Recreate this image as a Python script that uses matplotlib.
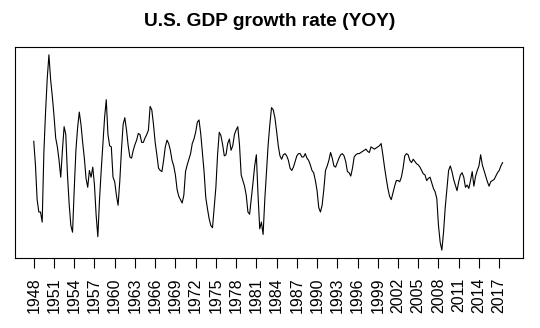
import numpy as np
import matplotlib
matplotlib.use("Agg")
import matplotlib.pyplot as plt

# quarterly YoY growth (%), 1948 Q1 onwards
gdp_growth = [
    5.7, 3.6, 0.5, -0.6,    # 1948
    -0.6, -1.5, 4.7, 8.3,   # 1949
    11.3, 13.4, 11.2, 9.7,  # 1950
    8.0, 6.0, 5.2, 4.0,     # 1951
    2.5, 4.9, 7.0, 6.3,     # 1952
    2.7, 0.1, -1.8, -2.4,   # 1953
    1.4, 4.9, 6.9, 8.3,     # 1954
    7.2, 5.6, 4.2, 2.4,     # 1955
    1.6, 3.1, 2.5, 3.4,     # 1956
    1.8, -0.9, -2.8, 0.5,   # 1957
    3.1, 5.4, 7.8, 9.4,     # 1958
    6.3, 5.3, 5.2, 2.5,     # 1959
    2.1, 0.9, 0.0, 2.1,     # 1960
    4.9, 7.2, 7.8, 6.7,     # 1961
    5.3, 4.3, 4.2, 4.9,     # 1962
    5.4, 5.8, 6.4, 6.3,     # 1963
    5.6, 5.6, 6.0, 6.3,     # 1964
    6.7, 8.8, 8.5, 7.2,     # 1965
    5.6, 4.5, 3.3, 3.1,     # 1966
    3.0, 4.0, 5.2, 5.8,     # 1967
    5.5, 4.9, 4.0, 3.5,     # 1968
    2.7, 1.4, 0.8, 0.5,     # 1969
    0.2, 0.9, 3.0, 3.6,     # 1970
    4.1, 4.6, 5.5, 5.9,     # 1971
    6.5, 7.4, 7.6, 6.4,     # 1972
    4.7, 3.0, 0.7, -0.3,    # 1973
    -1.2, -1.8, -2.0, -0.2, # 1974
    1.6, 4.5, 6.5, 6.2,     # 1975
    5.4, 4.4, 4.5, 5.5,     # 1976
    5.9, 4.9, 5.3, 6.3,     # 1977
    6.7, 7.0, 5.4, 2.7,     # 1978
    2.2, 1.7, 0.9, -0.6,    # 1979
    -0.8, 0.6, 2.0, 3.5,    # 1980
    4.5, 0.9, -2.1, -1.5,   # 1981
    -2.6, 0.5, 3.0, 5.4,    # 1982
    7.2, 8.7, 8.5, 7.8,     # 1983
    6.6, 5.3, 4.4, 4.1,     # 1984
    4.5, 4.6, 4.4, 4.0,     # 1985
    3.3, 3.1, 3.4, 3.9,     # 1986
    4.4, 4.6, 4.6, 4.3,     # 1987
    4.3, 4.6, 4.2, 4.0,     # 1988
    3.6, 3.1, 2.9, 2.2,     # 1989
    1.3, -0.2, -0.6, 0.0,   # 1990
    1.4, 3.1, 3.5, 4.0,     # 1991
    4.7, 4.2, 3.5, 3.4,     # 1992
    3.8, 4.2, 4.5, 4.6,     # 1993
    4.4, 3.9, 3.0, 2.9,     # 1994
    2.6, 3.3, 4.3, 4.5,     # 1995
    4.6, 4.6, 4.7, 4.8,     # 1996
    4.9, 5.0, 4.8, 4.7,     # 1997
    5.2, 5.1, 5.0, 5.1,     # 1998
    5.2, 5.3, 5.5, 4.5,     # 1999
    3.4, 2.4, 1.5, 0.8,     # 2000
    0.5, 1.1, 1.7, 2.2,     # 2001
    2.2, 2.1, 2.5, 3.3,     # 2002
    4.4, 4.6, 4.5, 4.0,     # 2003
    3.8, 4.1, 3.9, 3.7,     # 2004
    3.6, 3.4, 3.1, 2.8,     # 2005
    2.7, 2.2, 2.4, 2.5,     # 2006
    2.0, 1.5, 1.2, 0.6,     # 2007
    -1.8, -3.3, -4.0, -2.4, # 2008
    -0.2, 1.5, 3.1, 3.5,    # 2009
    3.0, 2.3, 1.8, 1.3,     # 2010
    2.1, 2.7, 2.9, 2.5,     # 2011
    1.6, 1.8, 1.5, 2.2,     # 2012
    3.0, 1.7, 2.6, 3.1,     # 2013
    3.5, 4.5, 3.6, 3.1,     # 2014
    2.6, 2.1, 1.7, 2.1,     # 2015
    2.2, 2.3, 2.6, 2.9,     # 2016
    3.1, 3.5, 3.8,          # 2017
]
start_year = 1948
tick_years = list(range(1948, 2018, 3))

dates = start_year + np.arange(len(gdp_growth)) / 4.0

plt.rcParams['font.family'] = ['Liberation Sans', 'DejaVu Sans']

fig = plt.figure(figsize=(5.4, 3.28), dpi=100)
ax = fig.add_axes([15/540, 70/328, 508/540, 211/328])

ax.plot(dates, gdp_growth, color='black', linewidth=0.8)

# R-style 4% padding on both axes
xr = dates[-1] - dates[0]
ax.set_xlim(dates[0] - 0.04*xr, dates[-1] + 0.04*xr + 0.25)
yr = max(gdp_growth) - min(gdp_growth)
ax.set_ylim(min(gdp_growth) - 0.04*yr, max(gdp_growth) + 0.04*yr)

ax.set_xticks(tick_years)
ax.set_xticklabels([str(y) for y in tick_years], rotation=90, fontsize=11.5)
ax.tick_params(axis='x', length=7, width=0.8, pad=7, direction='out')
ax.set_yticks([])
for s in ax.spines.values():
    s.set_linewidth(0.8)

fig.text(0.5, 1 - 22/328, "U.S. GDP growth rate (YOY)", ha='center', va='center',
         fontsize=13.8, fontweight='bold')

fig.savefig("out.png", dpi=100)
